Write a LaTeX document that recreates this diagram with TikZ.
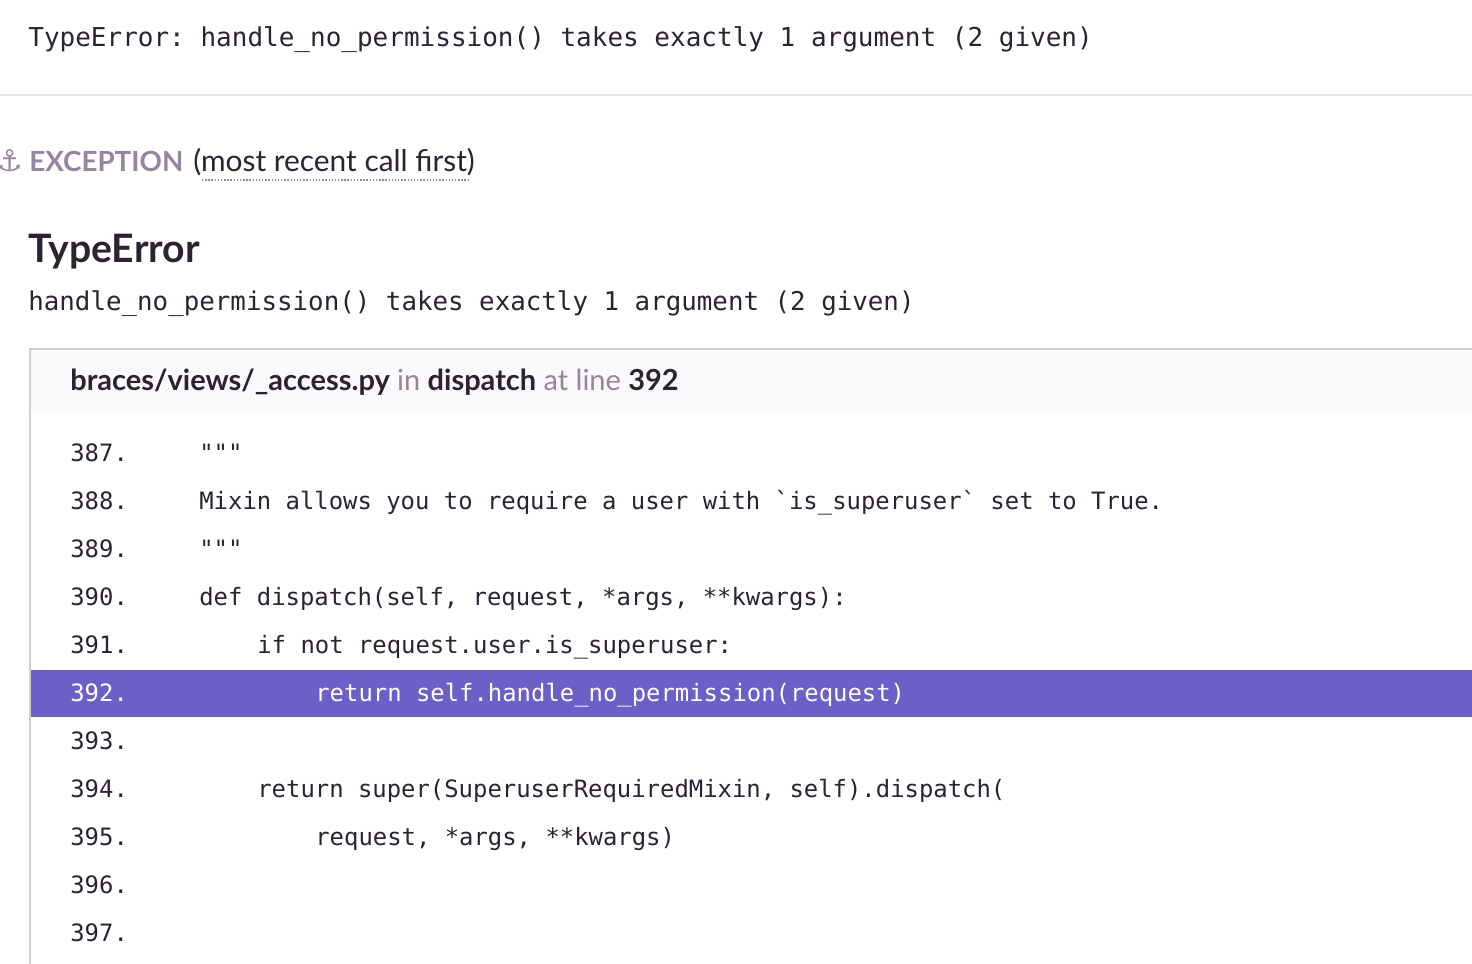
\documentclass[tikz,border=0pt]{standalone}
\usepackage{fontspec}
\setmainfont{Lato}
\setmonofont{DejaVu Sans Mono}
\newfontfamily\symfont{DejaVu Sans}
\definecolor{ink}{HTML}{2B2233}
\definecolor{muted}{HTML}{9585A3}
\definecolor{rule}{HTML}{E7E1EC}
\definecolor{hdrbg}{HTML}{FAF9FB}
\definecolor{hilite}{HTML}{6C5FC7}

\begin{document}
\begin{tikzpicture}[
            x=0.02cm, y=-0.02cm,
            every node/.style={inner sep=0pt, anchor=base west, text=ink},
            mono/.style={font=\ttfamily\fontsize{14.8}{18}\selectfont},
            code/.style={font=\ttfamily\fontsize{13.6}{16}\selectfont},
            lineno/.style={code}
        ]
        \useasboundingbox (0,0) rectangle (1472,964);
        % page rule and frame box
        \draw[rule, line width=1.2pt] (0,95) -- (1472,95);
        \fill[hdrbg] (30,349) rectangle (1472,413);
        \fill[hilite] (30,670) rectangle (1472,717);
        \draw[rule!80!gray, line width=1.2pt] (1472,349) -- (30,349) -- (30,964);
        % headers
        \node[mono] (msg) at (28,46) {TypeError: handle\_no\_permission() takes exactly 1 argument (2 given)};
        \node[text=muted, font=\symfont\fontsize{17}{20}\selectfont] (anchor) at (-4,171) {⚓};
        \node[text=muted, font=\bfseries\fontsize{15.8}{20}\selectfont] (exc) at (29,171) {EXCEPTION};
        \node[font=\fontsize{17}{20}\selectfont] (recent) at (193,171) {(most recent call first)};
        \draw[muted, densely dotted, line width=0.8pt] (202,180) -- (468,180);
        \node[font=\bfseries\fontsize{22.3}{26}\selectfont] (title) at (28,262) {TypeError};
        \node[mono, font=\ttfamily\fontsize{14.7}{18}\selectfont] (detail) at (28,310) {handle\_no\_permission() takes exactly 1 argument (2 given)};
        \node[font=\fontsize{16.5}{19}\selectfont] (file) at (70,390)
            {\textbf{braces/views/\_access.py} \textcolor{muted}{in} \textbf{dispatch} \textcolor{muted}{at line} \textbf{392}};
        % code lines
        \foreach \n/\lvl/\txt [count=\i from 0] in {
                387/0/{"""},
                388/0/{Mixin allows you to require a user with `is\_superuser` set to True.},
                389/0/{"""},
                390/0/{def dispatch(self, request, *args, **kwargs):},
                391/1/{if not request.user.is\_superuser:},
                392/2/{return self.handle\_no\_permission(request)},
                393/0/{},
                394/1/{return super(SuperuserRequiredMixin, self).dispatch(},
                395/2/{request, *args, **kwargs)},
                396/0/{},
                397/0/{}} {
            \ifnum\n=392 \def\tc{white}\else \def\tc{ink}\fi
            \node[lineno, text=\tc] (ln\n) at (70,461+48*\i) {\n.};
            \node[code, text=\tc] (code\n) at (199+58*\lvl,461+48*\i) {\txt};
        }
        \end{tikzpicture}
\end{document}
